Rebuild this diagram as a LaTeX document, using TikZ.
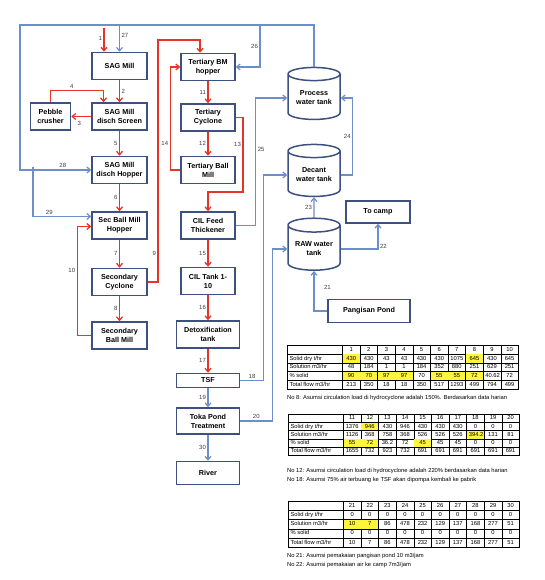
\documentclass[tikz,border=0pt]{standalone}
\usepackage{fontspec}
\setmainfont{Liberation Sans}
\usepackage{array,colortbl}
\usetikzlibrary{shapes.geometric,arrows.meta,positioning,calc}
\definecolor{azulCaixa}{RGB}{62,80,128}
\definecolor{azulLinha}{RGB}{108,142,202}
\definecolor{vermelhoFluxo}{RGB}{232,52,40}
\definecolor{cinzaRotulo}{RGB}{60,60,60}
\definecolor{amareloDestaque}{RGB}{255,245,60}
\newcolumntype{N}{>{\centering\arraybackslash}p{13.2pt}}
\newcolumntype{R}{>{\raggedright\arraybackslash}p{50.6pt}}
\newcommand{\destaq}{\cellcolor{amareloDestaque}}
\setlength{\tabcolsep}{2pt}
\tikzset{
  bloco/.style={rectangle, draw=azulCaixa, line width=1.5pt, fill=white,
                minimum width=55pt, minimum height=27pt, inner sep=1pt,
                align=center, font=\fontsize{7.2}{9}\selectfont\bfseries},
  tanque/.style={cylinder, shape border rotate=90, aspect=0.35, draw=azulCaixa,
                 line width=1.5pt, fill=white, minimum width=52pt, minimum height=52pt,
                 inner sep=1pt, align=center, font=\fontsize{7.2}{9}\selectfont\bfseries},
  rotulo/.style={font=\fontsize{6}{7}\selectfont, text=cinzaRotulo, inner sep=1.5pt},
  nota/.style={anchor=west, inner sep=0pt, font=\fontsize{5.8}{6.8}\selectfont},
  tabela/.style={anchor=north west, inner sep=0pt},
  setavermelha/.style={-{Straight Barb[length=3.5pt,width=6pt]}, line width=1.3pt, vermelhoFluxo},
  setaazul/.style={-{Straight Barb[length=3.5pt,width=6pt]}, line width=1.2pt, azulLinha},
}
\begin{document}
\begin{tikzpicture}[x=1pt, y=-1pt]
  \useasboundingbox (0,0) rectangle (544,580);
  % coluna da moagem primaria e secundaria
  \node[bloco] (sag) at (119.5,66) {SAG Mill};
  \node[bloco, below=22pt of sag] (screen) {SAG Mill\\disch Screen};
  \node[bloco, minimum width=40pt, left=20pt of screen] (pebble) {Pebble\\crusher};
  \node[bloco, below=25pt of screen] (dhopper) {SAG Mill\\disch Hopper};
  \node[bloco, below=27pt of dhopper] (sbhopper) {Sec Ball Mill\\Hopper};
  \node[bloco, below=28pt of sbhopper] (scyclone) {Secondary\\Cyclone};
  \node[bloco, below=25pt of scyclone] (sbmill) {Secondary\\Ball Mill};
  % coluna terciaria e CIL
  \node[bloco, minimum width=54pt] (thopper) at (208,67) {Tertiary BM\\hopper};
  \node[bloco, minimum width=54pt, below=22pt of thopper] (tcyclone) {Tertiary\\Cyclone};
  \node[bloco, minimum width=54pt, below=24pt of tcyclone] (tballmill) {Tertiary Ball\\Mill};
  \node[bloco, minimum width=54pt, below=27pt of tballmill] (thickener) {CIL Feed\\Thickener};
  \node[bloco, minimum width=54pt, below=27pt of thickener] (ciltank) {CIL Tank 1-\\10};
  \node[bloco, minimum width=63pt, below=25pt of ciltank] (detox) {Detoxification\\tank};
  \node[bloco, minimum width=63pt, minimum height=14pt, below=24pt of detox] (tsf) {TSF};
  \node[bloco, minimum width=63pt, minimum height=26pt, below=19pt of tsf] (toka) {Toka Pond\\Treatment};
  \node[bloco, minimum width=63pt, minimum height=23pt, below=26pt of toka] (river) {River};
  % tanques de agua
  \node[tanque] (process) at (314,98) {Process\\water tank};
  \node[tanque] (decant) at (314,175) {Decant\\water tank};
  \node[tanque] (raw) at (314,249) {RAW water\\tank};
  \node[bloco, minimum width=64pt, minimum height=22pt] (camp) at (378,212) {To camp};
  \node[bloco, minimum width=82pt, minimum height=23pt] (pangisan) at (369,311) {Pangisan Pond};
  \coordinate (in1) at (104,28);
  \coordinate (topleft) at (20,25);
  \coordinate (j26) at (260,25);
  \coordinate (j29) at (33,167);
  \coordinate (c9) at (158,40);
  \coordinate (c13) at (243,192);
  % fluxo de polpa
  \draw[setavermelha] (in1) -- (in1 |- sag.north) node[rotulo, pos=0.45, left] {1};
  \draw[setavermelha] (sag) -- (screen) node[rotulo, midway, right] {2};
  \draw[setavermelha] (screen) -- (pebble) node[rotulo, pos=0.6, below=3pt] {3};
  \draw[setavermelha] (pebble.north) -- ++(0,-12) -| ([xshift=-16pt]screen.north) node[rotulo, pos=0.2, above] {4};
  \draw[setavermelha] (screen) -- (dhopper) node[rotulo, midway, left] {5};
  \draw[setavermelha] (dhopper) -- (sbhopper) node[rotulo, midway, left] {6};
  \draw[setavermelha] (sbhopper) -- (scyclone) node[rotulo, midway, left] {7};
  \draw[setavermelha] (scyclone) -- (sbmill) node[rotulo, midway, left] {8};
  \draw[setavermelha] (scyclone.east) -| (c9) node[rotulo, pos=0.56, left] {9} -| ([xshift=-8pt]thopper.north);
  \draw[setavermelha] (sbmill.west) -- ++(-14,0) |- ([yshift=-1pt]sbhopper.west) node[rotulo, pos=0.3, left] {10};
  \draw[setavermelha] (thopper) -- (tcyclone) node[rotulo, midway, left] {11};
  \draw[setavermelha] (tcyclone) -- (tballmill) node[rotulo, midway, left] {12};
  \draw[setavermelha] (tcyclone.east) -| (c13) node[rotulo, pos=0.68, left] {13} -| (thickener.north);
  \draw[setavermelha] (tballmill.west) -- ++(-10,0) |- (thopper.west) node[rotulo, pos=0.13, left] {14};
  \draw[setavermelha] (thickener) -- (ciltank) node[rotulo, midway, left] {15};
  \draw[setavermelha] (ciltank) -- (detox) node[rotulo, midway, left] {16};
  \draw[setavermelha] (detox) -- (tsf) node[rotulo, midway, left] {17};
  % fluxo de agua
  \draw[setaazul] (tsf) -- (toka) node[rotulo, midway, left] {19};
  \draw[setaazul] (toka) -- (river) node[rotulo, midway, left] {30};
  \draw[setaazul] (tsf.east) -- ++(23.5,0) node[rotulo, midway, above] {18} |- (decant.west);
  \draw[setaazul] (toka.east) -- ++(32,0) node[rotulo, midway, above] {20} |- (raw.west);
  \draw[setaazul] (pangisan.west) -| (raw.south) node[rotulo, pos=0.8, right=8pt] {21};
  \draw[setaazul] (raw.east) -| (camp.south) node[rotulo, pos=0.55, right] {22};
  \draw[setaazul] (raw.north) -- (decant.south) node[rotulo, midway, left] {23};
  \draw[setaazul] (decant.east) -- ++(12,0) |- (process.east) node[rotulo, pos=0.25, left] {24};
  \draw[setaazul] (thickener.east) -- ++(20,0) |- (process.west) node[rotulo, pos=0.3, right] {25};
  \draw[setaazul] (process.north) |- (topleft) |- (dhopper.west) node[rotulo, pos=0.8, above] {28};
  \draw[setaazul] (sag.north |- topleft) -- (sag.north) node[rotulo, pos=0.4, right] {27};
  \draw[setaazul] (j26) |- (thopper.east) node[rotulo, pos=0.26, left] {26};
  \draw[setaazul] (j29) |- ([yshift=9pt]sbhopper.west) node[rotulo, pos=0.64, above] {29};
  % tabelas de balanco
  \node[tabela, font=\fontsize{5.8}{8.3}\selectfont] (tab1) at (287,345) {%
    \begin{tabular}{|R|N|N|N|N|N|N|N|N|N|N|}\hline
      & 1 & 2 & 3 & 4 & 5 & 6 & 7 & 8 & 9 & 10\\\hline
      Solid dry t/hr & \destaq 430 & 430 & 43 & 43 & 430 & 430 & 1075 & \destaq 645 & 430 & 645\\\hline
      Solution m3/hr & 48 & 184 & 1 & 1 & 184 & 352 & 880 & 251 & 629 & 251\\\hline
      \% solid & \destaq 90 & \destaq 70 & \destaq 97 & \destaq 97 & 70 & \destaq 55 & \destaq 55 & \destaq 72 & 40.62 & 72\\\hline
      Total flow m3/hr & 213 & 350 & 18 & 18 & 350 & 517 & 1293 & 499 & 794 & 499\\\hline
    \end{tabular}};
  \node[nota] (nota8) at (287,398) {No 8: Asumsi circulation load di hydrocyclone adalah 150\%. Berdasarkan data harian};
  \node[tabela, font=\fontsize{5.8}{7.7}\selectfont] (tab2) at (288,414) {%
    \begin{tabular}{|R|N|N|N|N|N|N|N|N|N|N|}\hline
      & 11 & 12 & 13 & 14 & 15 & 16 & 17 & 18 & 19 & 20\\\hline
      Solid dry t/hr & 1376 & \destaq 946 & 430 & 946 & 430 & 430 & 430 & 0 & 0 & 0\\\hline
      Solution m3/hr & 1126 & 368 & 758 & 368 & 526 & 526 & 526 & \destaq 394.2 & 131 & 81\\\hline
      \% solid & \destaq 55 & \destaq 72 & 36.2 & 72 & \destaq 45 & 45 & 45 & 0 & 0 & 0\\\hline
      Total flow m3/hr & 1655 & 732 & 923 & 732 & 691 & 691 & 691 & 691 & 691 & 691\\\hline
    \end{tabular}};
  \node[nota] (nota12) at (287,471) {No 12: Asumsi circulation load di hydrocyclone adalah 220\% berdasarkan data harian};
  \node[nota] (nota18) at (287,479.5) {No 18: Asumsi 75\% air terbuang ke TSF akan dipompa kembali ke pabrik};
  \node[tabela, font=\fontsize{5.8}{8.7}\selectfont] (tab3) at (288,501) {%
    \begin{tabular}{|R|N|N|N|N|N|N|N|N|N|N|}\hline
      & 21 & 22 & 23 & 24 & 25 & 26 & 27 & 28 & 29 & 30\\\hline
      Solid dry t/hr & 0 & 0 & 0 & 0 & 0 & 0 & 0 & 0 & 0 & 0\\\hline
      Solution m3/hr & \destaq 10 & \destaq 7 & 86 & 478 & 232 & 129 & 137 & 168 & 277 & 51\\\hline
      \% solid & 0 & 0 & 0 & 0 & 0 & 0 & 0 & 0 & 0 & 0\\\hline
      Total flow m3/hr & 10 & 7 & 86 & 478 & 232 & 129 & 137 & 168 & 277 & 51\\\hline
    \end{tabular}};
  \node[nota] (nota21) at (287,556) {No 21: Asumsi pemakaian pangisan pond 10 m3/jam};
  \node[nota] (nota22) at (287,565) {No 22: Asumsi pemakaian air ke camp 7m3/jam};
\end{tikzpicture}
\end{document}
